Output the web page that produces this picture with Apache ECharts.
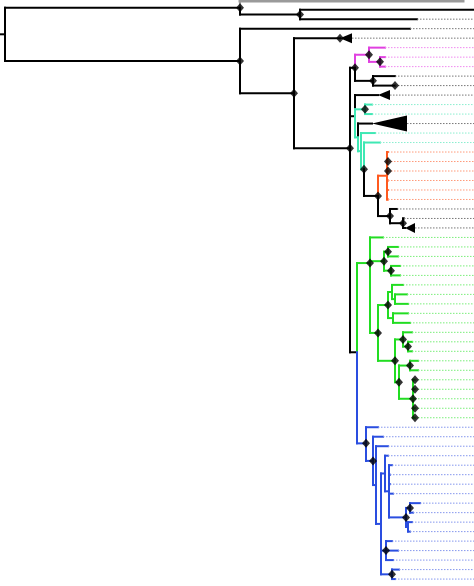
<!DOCTYPE html>
<html><head><meta charset="utf-8">
<script src="https://cdn.jsdelivr.net/npm/echarts@6/dist/echarts.min.js"></script>
<style>html,body{margin:0;padding:0;background:#fff}#c{width:474px;height:586px}</style>
</head><body><div id="c"></div>
<script>
// Tree data: N(node depth x, children, opts), L(tip depth, opts)
function L(tip,o){return Object.assign({tip:tip},o||{});}
function N(x,ch,o){return Object.assign({x:x,ch:ch},o||{});}

const branchColors = {k:'#000000',g:'#9a9a9a',m:'#e040e0',c:'#3fe8b4',o:'#ff5a1f',gr:'#22dd22',b:'#2a4ee0'};
const leaderColors = {k:'#777777',g:'#9a9a9a',m:'#f08af0',c:'#8aeecf',o:'#ff9a7a',gr:'#7aee7a',b:'#8597ee'};
const xRange = [0, 474];
const rowRange = [-1.02, 60.73];

const greenClade = N(370,[L(383), N(384,[N(388,[L(398),L(398)],{d:1}), N(391,[L(400),L(400)],{d:1})],{d:1}),
  N(378,[ N(388,[ N(392,[L(403), N(395,[L(407),L(408)])]), N(393,[L(408),L(410)]) ],{d:1}),
          N(395,[ N(403,[L(412), N(408,[L(412),L(412)],{d:1})],{d:1}),
                  N(399,[ N(410,[L(418),L(418)],{d:1}), N(413,[L(415,{d:1}),L(415,{d:1}),L(415),L(415,{d:1}),L(415,{d:1})],{d:1}) ],{d:1}) ],{d:1}) ],{d:1})
],{c:'gr',d:1,y:26.7});

const blueClade = N(366,[L(378), N(373,[L(383), N(376,[L(388), N(381,[
  N(385,[L(388), N(389,[L(392),L(390),L(390),L(393), N(406,[N(410,[L(420),L(413)],{d:1}), N(408,[L(412),L(410)])],{d:1})])]),
  N(386,[L(392),L(398),L(393)],{d:1}),
  N(392,[L(399),L(395)],{d:1}) ])])],{d:1})],{c:'b',d:1,y:45.7});

const upperClade = N(350,[
  N(355,[ N(369,[L(385),N(380,[L(385),L(385)],{d:1})],{c:'m',d:1}), N(373,[L(395),L(395,{d:1})],{d:1}) ],{d:1}),
  N(355,[ L(390,{tri:12,th:10}), N(365,[L(372),L(372)],{c:'c',d:1}),
    N(358,[ L(407,{c:'k',tri:35,th:16}), N(361,[L(375), N(364,[L(380),
      N(378,[ N(387,[L(388),L(388,{d:1}),L(388,{d:1}),L(388),L(388),L(388)],{c:'o'}),
              N(390,[L(397), N(403,[L(404),L(415,{tri:10,th:10})],{d:1})],{c:'k',d:1}) ],{c:'k',d:1})
    ],{d:1})]) ],{c:'c'}) ]),
  N(357,[greenClade, blueClade],{y:36.1})
],{y:14.6,d:1});

const TREE = N(5,[
  N(240,[L(463,{c:'g',row:-0.92,solid:1,w:3}), N(300,[L(474,{solid:1}),L(417)],{d:1})],{d:1}),
  N(240,[L(410), N(294,[L(352,{tri:12,th:10,d:1}), upperClade],{d:1})],{d:1})
],{stub:1});

// layout
let rowCounter = 0;
function lay(n,col){
  n.col = n.c || col;
  if(n.tip!==undefined){ n.yy = (n.row!==undefined)? n.row : rowCounter++; return; }
  n.ch.forEach(c=>lay(c,n.col));
  n.yy = (n.y!==undefined)? n.y : (n.ch[0].yy + n.ch[n.ch.length-1].yy)/2;
}
lay(TREE,'k');

const segs=[], dots=[], tris=[];
function draw(n,px){
  const col = branchColors[n.col];
  if(n.tip!==undefined){
    const end = n.tip - (n.tri||0);
    segs.push([px,n.yy,end,n.yy,col,n.w||2,0]);
    if(n.tri) tris.push([end,n.tip,n.yy,n.th]);
    if(!n.solid) segs.push([n.tip,n.yy,xRange[1],n.yy,leaderColors[n.col],1,1]);
    if(n.d) dots.push([end,n.yy]);
    return;
  }
  if(px!==null) segs.push([px,n.yy,n.x,n.yy,col,2,0]);
  n.ch.forEach(c=>{ segs.push([n.x,n.yy,n.x,c.yy,branchColors[c.col],2,0]); draw(c,n.x); });
  if(n.d) dots.push([n.x,n.yy]);
}
segs.push([0,TREE.yy,TREE.x,TREE.yy,'#000',2,0]);
draw(TREE,null);

const chart = echarts.init(document.getElementById('c'));
chart.setOption({
  animation:false,
  grid:{left:0,right:0,top:0,bottom:0},
  xAxis:{type:'value',min:xRange[0],max:xRange[1],show:false},
  yAxis:{type:'value',min:rowRange[0],max:rowRange[1],inverse:true,show:false},
  series:[
    {type:'custom',data:segs,renderItem:function(p,api){
      const d=segs[p.dataIndex];
      const a=api.coord([d[0],d[1]]), b=api.coord([d[2],d[3]]);
      return {type:'line',shape:{x1:a[0],y1:a[1],x2:b[0],y2:b[1]},
        style:{stroke:d[4],lineWidth:d[5],lineDash:d[6]?[1.5,1.5]:null,lineCap:d[6]?'butt':'square'}};
    }},
    {type:'custom',data:tris,renderItem:function(p,api){
      const d=tris[p.dataIndex];
      const a=api.coord([d[0],d[2]]), b=api.coord([d[1],d[2]]);
      return {type:'polygon',shape:{points:[[a[0],a[1]],[b[0],b[1]-d[3]/2],[b[0],b[1]+d[3]/2]]},style:{fill:'#000'}};
    }},
    {type:'scatter',data:dots,symbol:'diamond',symbolSize:[8,9],itemStyle:{color:'#000'},z:5}
  ]
});
</script></body></html>
